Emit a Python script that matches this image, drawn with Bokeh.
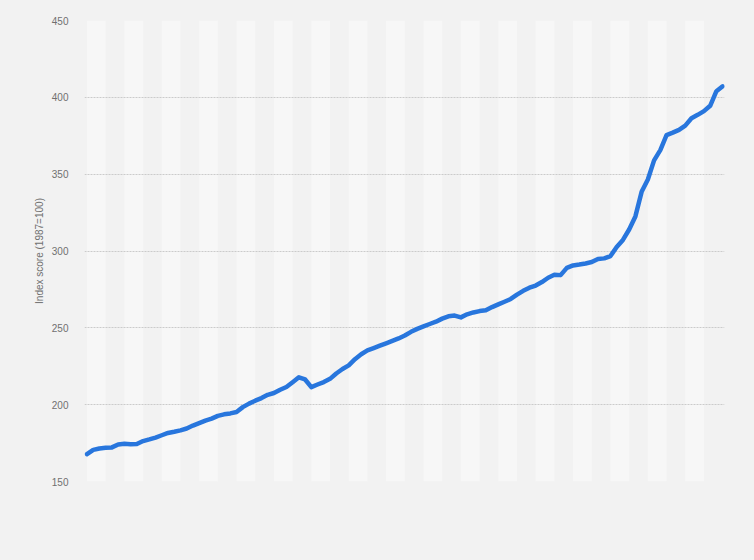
from bokeh.plotting import figure
from bokeh.models import Range1d, FixedTicker, BoxAnnotation
from bokeh.embed import file_html
from bokeh.resources import INLINE

# ---- data ----
index_values = [
    167.8, 170.6, 171.5, 172.0, 172.2, 174.1, 174.5, 174.3, 174.4, 176.3,
    177.4, 178.6, 180.1, 181.6, 182.4, 183.3, 184.5, 186.4, 188.0, 189.6,
    190.9, 192.7, 193.7, 194.3, 195.2, 198.4, 200.7, 202.6, 204.3, 206.4,
    207.6, 209.7, 211.5, 214.6, 217.8, 216.4, 211.4, 213.1, 214.7, 216.8,
    220.3, 223.2, 225.6, 229.6, 232.8, 235.3, 236.8, 238.4, 239.9, 241.5,
    243.1, 245.0, 247.4, 249.3, 250.9, 252.5, 254.0, 256.0, 257.5, 258.0,
    256.8, 258.8, 260.0, 260.9, 261.4, 263.5, 265.3, 267.0, 268.8, 271.6,
    274.1, 276.1, 277.5, 279.8, 282.6, 284.5, 284.3, 289.0, 290.6, 291.2,
    291.9, 292.8, 294.8, 295.2, 296.7, 302.6, 307.2, 314.0, 322.5, 338.5,
    346.5, 359.0, 365.6, 375.4, 377.0, 378.8, 381.6, 386.4, 388.6, 391.0,
    394.5, 404.0, 407.2,
]
y_ticks = [150, 200, 250, 300, 350, 400, 450]
y_axis_title = "Index score (1987=100)"
points_per_band = 3

x_vals = list(range(len(index_values)))
n_last = len(index_values) - 1

BG = "#f2f2f2"
BAND = "#f7f7f7"
LINE = "#2876dd"
TXT = "#707070"

p = figure(
    width=754, height=560,
    output_backend="svg", toolbar_location=None,
    x_range=Range1d(-0.4, n_last + 0.3),
    y_range=Range1d(y_ticks[0], y_ticks[-1]),
    min_border_left=84, min_border_right=30,
    min_border_top=20, min_border_bottom=79,
)
p.background_fill_color = BG
p.border_fill_color = BG
p.outline_line_color = None

# alternating vertical bands
for k, start in enumerate(range(0, n_last, points_per_band)):
    if k % 2 == 0:
        p.add_layout(BoxAnnotation(left=start, right=min(start + points_per_band, n_last),
                                   fill_color=BAND, fill_alpha=1.0,
                                   line_color=None, level="image"))

p.line(x_vals, index_values, line_color=LINE, line_width=4.5,
       line_join="round", line_cap="round")

p.xaxis.visible = False
p.xgrid.grid_line_color = None

p.ygrid.ticker = FixedTicker(ticks=y_ticks)
p.ygrid.grid_line_color = "#cbcbcb"
p.ygrid.grid_line_dash = "2 1"
p.ygrid.grid_line_width = 1

ax = p.yaxis[0]
ax.ticker = FixedTicker(ticks=y_ticks)
ax.axis_line_color = None
ax.major_tick_line_color = None
ax.minor_tick_line_color = None
ax.major_tick_out = 0
ax.major_tick_in = 0
ax.major_label_standoff = 16
ax.major_label_text_font = "Liberation Sans"
ax.major_label_text_font_size = "10px"
ax.major_label_text_color = TXT
ax.axis_label = y_axis_title
ax.axis_label_text_font = "Liberation Sans"
ax.axis_label_text_font_size = "10px"
ax.axis_label_text_font_style = "normal"
ax.axis_label_text_color = TXT
ax.axis_label_standoff = 4

html = file_html(p, INLINE, title="chart")
html = html.replace("</head>", "<style>html,body{background:#f2f2f2;}</style></head>", 1)
open("out.html", "w").write(html)
